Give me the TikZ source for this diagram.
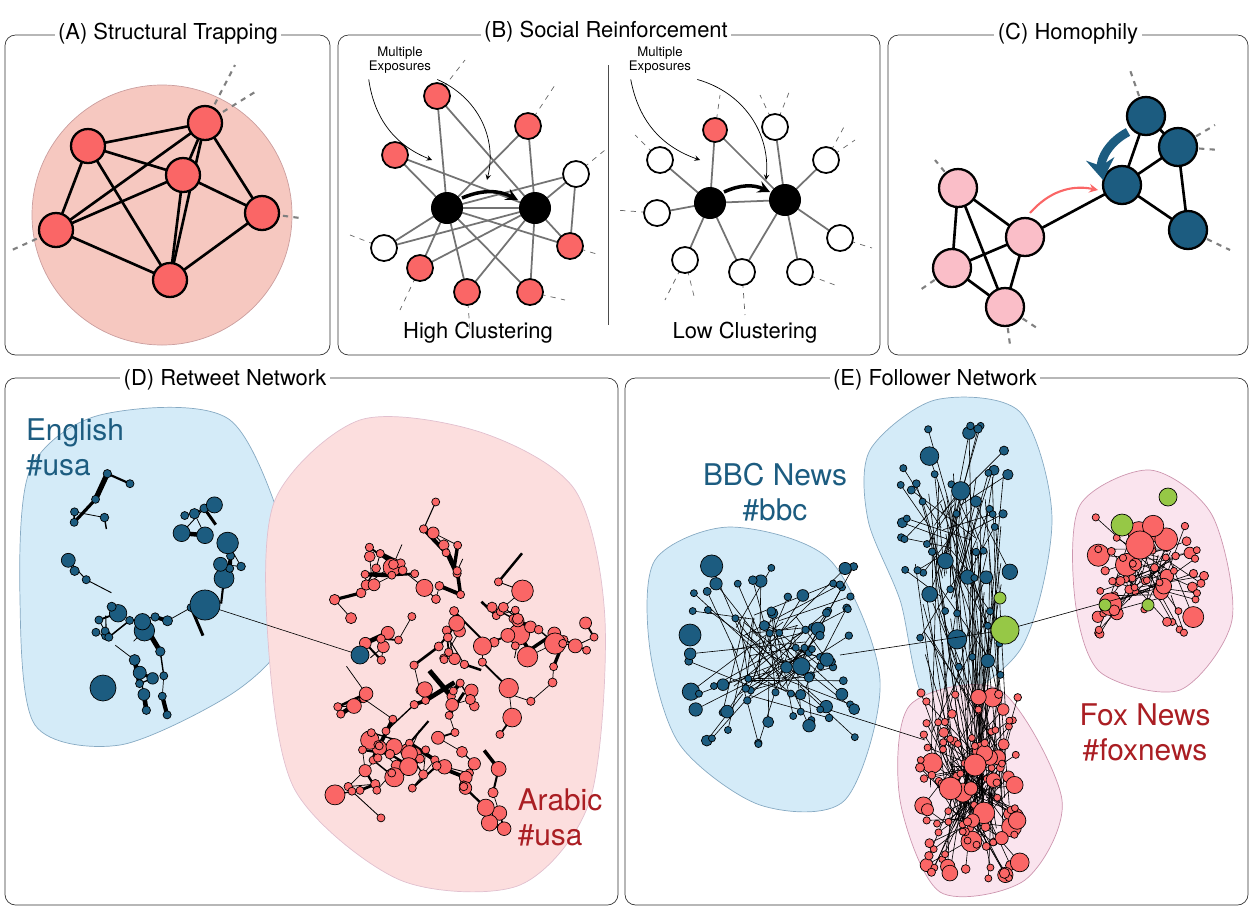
\documentclass[tikz,border=0pt]{standalone}
\usepackage{fontspec}
\setmainfont{TeX Gyre Heros}
\usetikzlibrary{arrows.meta}
\definecolor{nodered}{RGB}{250,102,102}
\definecolor{nodepink}{RGB}{250,190,200}
\definecolor{nodeblue}{RGB}{28,92,128}
\definecolor{blobblue}{RGB}{212,235,248}
\definecolor{blobblueline}{RGB}{135,170,195}
\definecolor{blobred}{RGB}{252,222,222}
\definecolor{blobpink}{RGB}{250,228,238}
\definecolor{blobpinkline}{RGB}{205,150,175}
\definecolor{nodegreen}{RGB}{150,200,70}
\definecolor{labelred}{RGB}{170,30,35}
\definecolor{trapfill}{RGB}{246,200,192}
\tikzset{
  panel/.style={draw=black!80, rounded corners=6pt, thin},
  ptitle/.style={fill=white, inner sep=2pt, font=\fontsize{12.5}{14}\selectfont},
  bignode/.style={draw=black, line width=1.3pt},
  stub/.style={dashed, gray, line width=1.2pt},
  netedge/.style={black, line width=0.35pt},
  grayedge/.style={black!55, line width=1pt},
}
% dense cluster: cx cy sx sy n colour seed
\newcommand{\netcluster}[7]{%
  \pgfmathsetseed{#7}
  \foreach \i in {1,...,#5}{
    \pgfmathsetmacro\px{#1+#3*rand}
    \pgfmathsetmacro\py{#2+#4*rand}
    \pgfmathsetmacro\ox{#1+0.45*#3*rand}
    \pgfmathsetmacro\oy{#2+0.45*#4*rand}
    \pgfmathsetmacro\rr{rnd}
    \draw[netedge] (\ox,\oy) -- (\px,\py);
  }
  \pgfmathsetseed{#7}
  \foreach \i in {1,...,#5}{
    \pgfmathsetmacro\px{#1+#3*rand}
    \pgfmathsetmacro\py{#2+#4*rand}
    \pgfmathsetmacro\ox{#1+0.45*#3*rand}
    \pgfmathsetmacro\oy{#2+0.45*#4*rand}
    \pgfmathsetmacro\rr{rnd}
    \pgfmathsetmacro\rad{3.5+8*\rr^5}
    \fill[#6, draw=black, line width=0.4pt] (\px,\py) circle (\rad);
  }}
% tree cluster: cx cy sx sy step n colour seed reset
\newcommand{\treecluster}[9]{%
  \pgfmathsetseed{#8}
  \foreach \i in {1,...,#6}{
    \pgfmathtruncatemacro\m{mod(\i,#9)}
    \pgfmathsetmacro\ax{#1+#3*rand}
    \pgfmathsetmacro\ay{#2+#4*rand}
    \ifnum\m=1 \xdef\qx{\ax}\xdef\qy{\ay}\fi
    \pgfmathsetmacro\px{\qx+#5*rand}
    \pgfmathsetmacro\py{\qy+#5*rand}
    \pgfmathsetmacro\rr{rnd}
    \pgfmathsetmacro\ss{rnd}
    \pgfmathsetmacro\lw{0.4+2.6*\ss^4}
    \draw[black, line width=\lw pt] (\qx,\qy) -- (\px,\py);
    \xdef\qx{\px}\xdef\qy{\py}
  }
  \pgfmathsetseed{#8}
  \foreach \i in {1,...,#6}{
    \pgfmathtruncatemacro\m{mod(\i,#9)}
    \pgfmathsetmacro\ax{#1+#3*rand}
    \pgfmathsetmacro\ay{#2+#4*rand}
    \ifnum\m=1 \xdef\qx{\ax}\xdef\qy{\ay}\fi
    \pgfmathsetmacro\px{\qx+#5*rand}
    \pgfmathsetmacro\py{\qy+#5*rand}
    \pgfmathsetmacro\rr{rnd}
    \pgfmathsetmacro\ss{rnd}
    \pgfmathsetmacro\rad{4+7*\rr^4}
    \fill[#7, draw=black, line width=0.4pt] (\px,\py) circle (\rad);
    \xdef\qx{\px}\xdef\qy{\py}
  }}
\begin{document}
\begin{tikzpicture}[x=0.02cm, y=-0.02cm]
  \useasboundingbox (0,0) rectangle (1253,910);

  % 枠
  \draw[panel] (5,35) rectangle (330,355);
  \draw[panel] (338,35) rectangle (880,355);
  \draw[panel] (888,35) rectangle (1248,355);
  \draw[panel] (5,378) rectangle (618,905);
  \draw[panel] (625,378) rectangle (1248,905);
  \node[ptitle] (tA) at (168,34) {(A) Structural Trapping};
  \node[ptitle] (tB) at (606,32) {(B) Social Reinforcement};
  \node[ptitle] (tC) at (1068,34) {(C) Homophily};
  \node[ptitle] (tD) at (225,380) {(D) Retweet Network};
  \node[ptitle] (tE) at (935,380) {(E) Follower Network};

  % (A)
  \fill[trapfill, draw=nodered!60!black!50] (162,215) ellipse (130 and 130);
  \draw[stub] (205,123) -- (235,65);
  \draw[stub] (205,123) -- (255,92);
  \draw[stub] (262,213) -- (300,218);
  \draw[stub] (56,230) -- (12,250);
  \foreach \xa/\ya/\xb/\yb in {88/146/205/123, 88/146/183/175, 88/146/56/230, 88/146/170/280,
    205/123/183/175, 205/123/262/213, 205/123/56/230, 205/123/170/280,
    183/175/262/213, 183/175/56/230, 183/175/170/280, 262/213/170/280, 56/230/170/280}
    \draw[line width=1.5pt] (\xa,\ya) -- (\xb,\yb);
  \foreach \x/\y in {88/146, 205/123, 183/175, 262/213, 56/230, 170/280}
    \fill[nodered, bignode] (\x,\y) circle (17);

  % (B) 左
  \draw[black!70] (608,65) -- (608,325);
  \foreach \x/\y in {437/96, 528/126, 395/155, 570/246, 420/268, 467/292, 530/292, 576/174, 384/248}{
    \draw[grayedge] (447,208) -- (\x,\y);
    \draw[grayedge] (535,208) -- (\x,\y);
  }
  \draw[grayedge] (447,208) -- (535,208);
  \draw[grayedge] (576,174) -- (570,246);
  \foreach \xa/\ya/\xb/\yb in {437/96/465/60, 528/126/555/85, 570/246/600/255, 530/292/565/300, 420/268/400/310, 576/174/605/150, 384/248/350/235, 467/292/470/330}
    \draw[black!60, dashed] (\xa,\ya) -- (\xb,\yb);
  \foreach \x/\y in {437/96, 528/126, 395/155, 570/246, 420/268, 467/292, 530/292}
    \fill[nodered, draw=black, line width=1pt] (\x,\y) circle (13);
  \foreach \x/\y in {576/174, 384/248}
    \fill[white, draw=black, line width=1pt] (\x,\y) circle (13);
  \fill (447,208) circle (16);
  \fill (535,208) circle (16);
  \draw[-stealth, line width=2pt] (462,198) to[bend left=25] (518,200);
  \node[font=\fontsize{7.5}{8}\selectfont, align=center] (meL) at (400,60) {Multiple\\Exposures};
  \draw[-stealth] (meL.south west) ++(6,0) to[bend right=30] (432,160);
  \draw[-stealth] (meL.south east) to[bend left=40] (487,180);
  \node[font=\fontsize{12.5}{14}\selectfont] (hc) at (478,333) {High Clustering};

  % (B) 右
  \foreach \x/\y in {715/130, 660/160, 657/213, 685/260, 742/272}
    \draw[grayedge] (710,203) -- (\x,\y);
  \foreach \x/\y in {715/130, 775/127, 826/160, 840/238, 800/272, 742/272}
    \draw[grayedge] (785,200) -- (\x,\y);
  \draw[grayedge] (710,203) -- (785,200);
  \foreach \xa/\ya/\xb/\yb in {715/130/720/95, 775/127/790/90, 826/160/855/140, 840/238/872/248, 800/272/835/285, 742/272/745/315, 685/260/665/300, 685/260/695/300, 657/213/615/210, 660/160/635/135, 775/127/760/95, 826/160/845/125}
    \draw[black!60, dashed] (\xa,\ya) -- (\xb,\yb);
  \fill[nodered, draw=black, line width=1pt] (715,130) circle (12);
  \foreach \x/\y in {775/127, 826/160, 660/160, 657/213, 840/238, 685/260, 742/272, 800/272}
    \fill[white, draw=black, line width=1pt] (\x,\y) circle (13);
  \fill (710,203) circle (16);
  \fill (785,200) circle (16);
  \draw[-stealth, line width=2pt] (724,192) to[bend left=25] (770,192);
  \node[font=\fontsize{7.5}{8}\selectfont, align=center] (meR) at (660,60) {Multiple\\Exposures};
  \draw[-stealth] (meR.south west) ++(8,0) to[bend right=30] (700,160);
  \draw[-stealth] (meR.south east) to[bend left=40] (766,180);
  \node[font=\fontsize{12.5}{14}\selectfont] (lc) at (745,333) {Low Clustering};

  % (C)
  \foreach \xa/\ya/\xb/\yb in {958/188/935/160, 952/268/920/290, 1005/307/1010/345, 1005/307/1040/330, 1146/116/1130/70, 1178/147/1215/125, 1188/230/1230/250, 1178/147/1220/150}
    \draw[stub] (\xa,\ya) -- (\xb,\yb);
  \foreach \xa/\ya/\xb/\yb in {958/188/1025/237, 958/188/952/268, 958/188/1005/307, 1025/237/952/268, 1025/237/1005/307, 952/268/1005/307,
    1025/237/1122/185, 1146/116/1178/147, 1146/116/1122/185, 1178/147/1122/185, 1178/147/1188/230, 1122/185/1188/230}
    \draw[line width=1.5pt] (\xa,\ya) -- (\xb,\yb);
  \foreach \x/\y in {958/188, 1025/237, 952/268, 1005/307}
    \fill[nodepink, bignode] (\x,\y) circle (19);
  \foreach \x/\y in {1146/116, 1178/147, 1122/185, 1188/230}
    \fill[nodeblue, bignode] (\x,\y) circle (19);
  \draw[-{Stealth[length=12pt, width=16pt]}, nodeblue, line width=5pt] (1128,132) to[bend right=35] (1103,180);
  \draw[-stealth, nodered, line width=1.2pt] (1030,213) to[bend left=30] (1098,190);

  % (D)
  \draw[fill=blobblue, draw=blobblueline] plot[smooth cycle] coordinates {(30,470) (100,415) (230,420) (292,560) (285,640) (230,695) (120,745) (35,725) (20,600)};
  \draw[fill=blobred, draw=blobpinkline!60] plot[smooth cycle] coordinates {(275,500) (360,420) (480,432) (575,490) (605,620) (590,800) (520,885) (400,880) (295,790) (268,640)};
  \treecluster{165}{585}{65}{75}{30}{45}{nodeblue}{3}{6}
  \treecluster{435}{645}{95}{140}{30}{150}{nodered}{5}{7}
  \draw[netedge] (205,605) -- (360,655);
  \fill[nodeblue, draw=black] (205,605) circle (15);
  \fill[nodeblue, draw=black] (103,688) circle (13);
  \fill[nodeblue, draw=black] (360,655) circle (9);
  \node[nodeblue, align=left, font=\fontsize{17}{20}\selectfont] (eng) at (75,447) {English\\\#usa};
  \node[labelred, align=left, font=\fontsize{17}{20}\selectfont] (arb) at (560,817) {Arabic\\\#usa};

  % (E)
  \draw[fill=blobblue, draw=blobblueline] plot[smooth cycle] coordinates {(655,560) (730,527) (830,560) (880,680) (845,800) (760,805) (680,745) (650,650)};
  \draw[fill=blobblue, draw=blobblueline] plot[smooth cycle] coordinates {(870,450) (935,400) (1020,412) (1052,520) (1020,650) (930,705) (900,600) (868,520)};
  \draw[fill=blobpink, draw=blobpinkline] plot[smooth cycle] coordinates {(910,705) (1000,690) (1062,800) (1025,880) (940,892) (900,800)};
  \draw[fill=blobpink, draw=blobpinkline] plot[smooth cycle] coordinates {(1080,505) (1150,470) (1212,515) (1232,620) (1180,690) (1100,672) (1075,600)};
  \pgfmathsetseed{11}
  \foreach \i in {1,...,50}{
    \pgfmathsetmacro\ax{960+45*rand}
    \pgfmathsetmacro\ay{570+100*rand}
    \pgfmathsetmacro\bx{970+40*rand}
    \pgfmathsetmacro\by{780+70*rand}
    \draw[netedge] (\ax,\ay) -- (\bx,\by);
  }
  \netcluster{770}{655}{85}{90}{80}{nodeblue}{21}
  \netcluster{955}{550}{55}{125}{55}{nodeblue}{23}
  \netcluster{970}{785}{50}{95}{110}{nodered}{25}
  \netcluster{1150}{575}{55}{60}{70}{nodered}{27}
  \draw[netedge] (840,655) -- (1005,630) -- (1150,590);
  \draw[netedge] (830,710) -- (925,740);
  \fill[nodeblue, draw=black] (690,635) circle (11);
  \fill[nodered, draw=black] (1140,545) circle (14);
  \fill[nodered, draw=black] (975,765) circle (11);
  \foreach \x/\y/\r in {1005/630/14, 1122/525/11, 1168/497/9, 1105/605/6, 1148/605/6, 1000/598/6}
    \fill[nodegreen, draw=black] (\x,\y) circle (\r);
  \node[nodeblue, align=center, font=\fontsize{17}{20}\selectfont] (bbc) at (775,492) {BBC News\\\#bbc};
  \node[labelred, align=center, font=\fontsize{17}{20}\selectfont] (fox) at (1145,732) {Fox News\\\#foxnews};

\end{tikzpicture}
\end{document}
